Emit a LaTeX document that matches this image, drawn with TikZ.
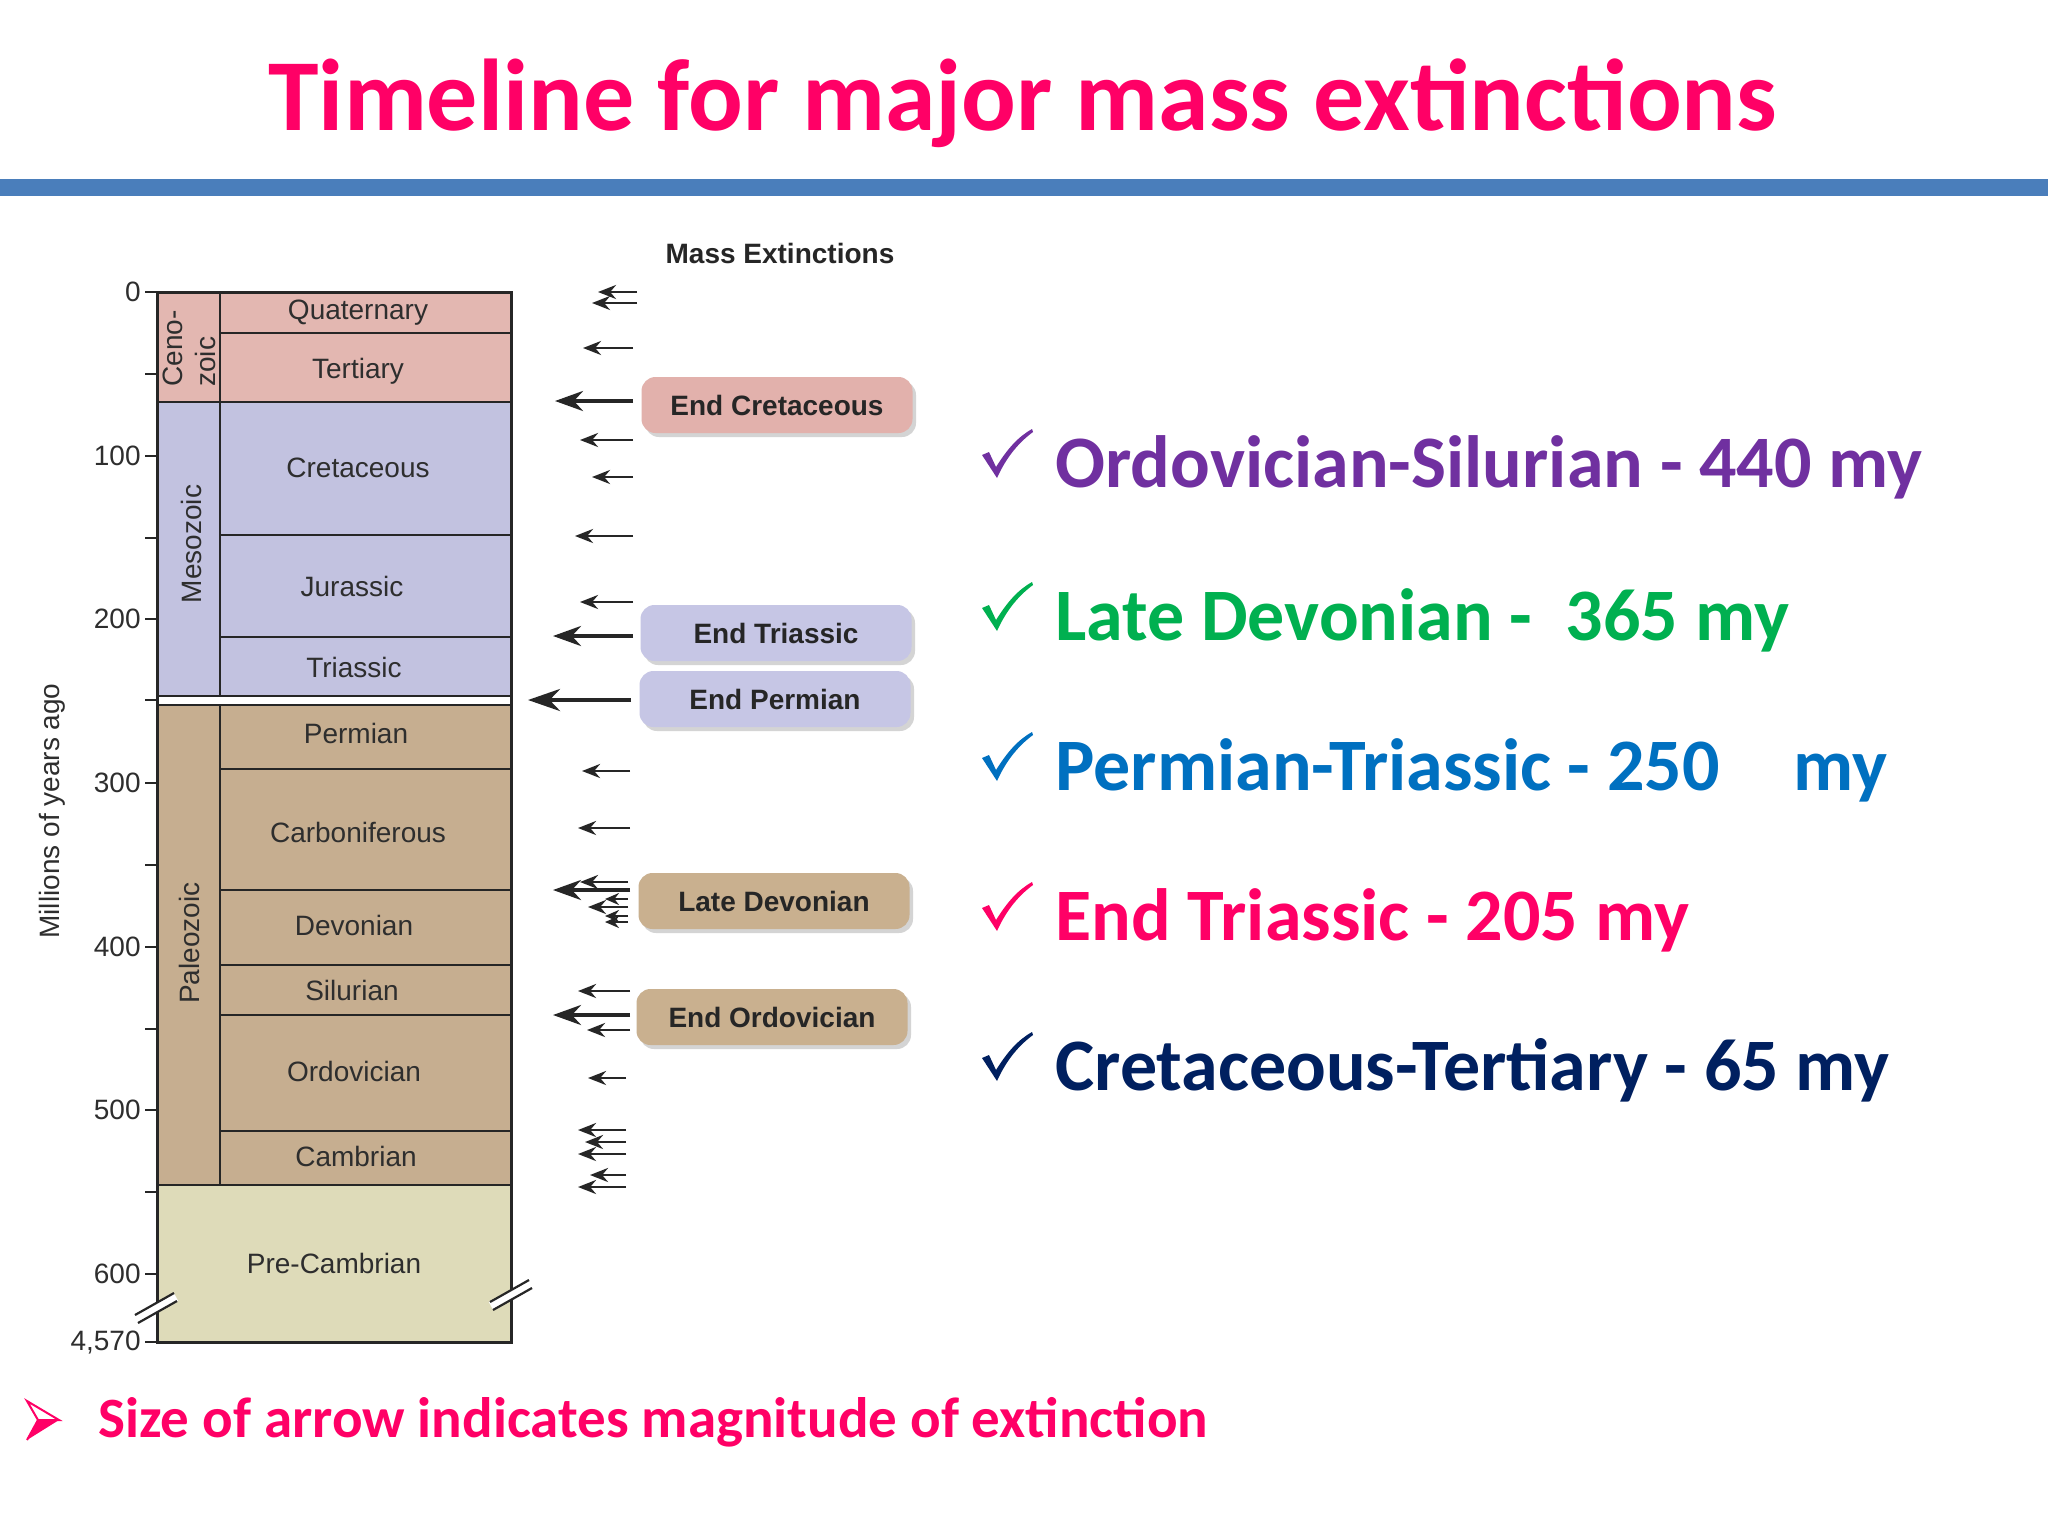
\documentclass[tikz,border=0pt]{standalone}
\usepackage{fontspec}
\setmainfont{Liberation Sans}
\newfontfamily\calib{Carlito}
\usetikzlibrary{arrows.meta}
\definecolor{ttl}{HTML}{FF0066}
\definecolor{barblue}{HTML}{4A7EBB}
\definecolor{cpurple}{HTML}{7030A0}
\definecolor{cgreen}{HTML}{00B050}
\definecolor{cblue}{HTML}{0070C0}
\definecolor{cnavy}{HTML}{002060}
\definecolor{ceno}{HTML}{E3B7B1}
\definecolor{meso}{HTML}{C2C2E0}
\definecolor{paleo}{HTML}{C6AE90}
\definecolor{prec}{HTML}{DEDBB9}
\definecolor{bxpink}{HTML}{E2B1AC}
\definecolor{bxlav}{HTML}{C6C6E5}
\definecolor{bxtan}{HTML}{C9B08F}
\definecolor{ink}{HTML}{262626}
\definecolor{txt}{HTML}{2E2E2E}
\tikzset{
  chartfont/.style={font=\fontsize{14}{16}\selectfont, text=txt, inner sep=0pt},
  outl/.style={draw=ink, line width=1.5pt},
  divl/.style={draw=ink, line width=1.25pt},
  tickl/.style={draw=ink, line width=1.1pt},
  lbox/.style={rounded corners=7pt, minimum width=135.5pt, minimum height=28pt, inner sep=0pt,
     font=\fontsize{14}{16}\selectfont\bfseries, text=ink},
  shad/.style={fill=black!30, rounded corners=7pt, opacity=0.55},
  bigarr/.style={draw=ink, line width=2pt, -{Stealth[length=14pt,width=10pt]}},
  smarr/.style={draw=ink, line width=1.4pt, -{Stealth[length=9pt,width=7pt]}},
  tiarr/.style={draw=ink, line width=1.2pt, -{Stealth[length=7pt,width=6pt]}},
  listtxt/.style={font=\calib\bfseries\fontsize{37}{40}\selectfont, anchor=base west, inner sep=0pt},
  chkmark/.pic={\fill (-14,-23) -- (-7,-26) -- (0,-11) .. controls (12,-30) and (22,-41) .. (36,-49)
     -- (37,-46) .. controls (22,-35) and (10,-20) .. (1,0) -- cycle;}
}
\begin{document}
\begin{tikzpicture}[x=0.5pt,y=-0.5pt]
\useasboundingbox (0,0) rectangle (2048,1536);
\fill[white] (0,0) rectangle (2048,1536);

% title and bar
\node[font=\calib\bfseries\fontsize{51}{56}\selectfont, text=ttl, anchor=base, inner sep=0pt] (title) at (1023,131) {Timeline for major mass extinctions};
\fill[barblue] (0,179) rectangle (2048,196);

% chart fills
\fill[ceno] (157,292) rectangle (511,402);
\fill[meso] (157,402) rectangle (511,696);
\fill[paleo] (157,705) rectangle (511,1185);
\fill[prec] (157,1185) rectangle (511,1342);

% dividers
\foreach \y in {333,535,637,769,890,965,1015,1131} \draw[divl] (220,\y) -- (511,\y);
\foreach \y in {402,696,705,1185} \draw[divl] (157,\y) -- (511,\y);
\draw[divl] (220,292) -- (220,696);
\draw[divl] (220,705) -- (220,1185);
\draw[outl] (157,292) rectangle (511,1342);

% ticks
\foreach \y in {292,374,456,538,619,700,783,865,947,1029,1110,1192,1274,1342} \draw[tickl] (145,\y) -- (157,\y);
\foreach \y/\t [count=\i] in {292/0,456/100,619/200,783/300,947/400,1110/500,1274/600,1342/{4,570}}
  \node[chartfont, anchor=east] (tk\i) at (141,\y) {\t};

% break marks
\foreach \cx/\cy in {156/1308, 511/1295} {
  \draw[white, line width=4.5pt] (\cx-20,\cy+11) -- (\cx+20,\cy-11);
  \draw[ink, line width=1.1pt] (\cx-21,\cy+7) -- (\cx+18,\cy-15);
  \draw[ink, line width=1.1pt] (\cx-18,\cy+15) -- (\cx+21,\cy-7);
}

% axis title
\node[font=\fontsize{14}{16}\selectfont, text=txt, rotate=90, inner sep=0pt] (axis) at (52,811) {Millions of years ago};

% era labels
\node[chartfont, rotate=90, anchor=west] (ceno1) at (173,387) {Ceno-};
\node[chartfont, rotate=90, anchor=west] (ceno2) at (205,387) {zoic};
\node[chartfont, rotate=90] (mesoz) at (191,544) {Mesozoic};
\node[chartfont, rotate=90] (paleoz) at (189,943) {Paleozoic};

% period labels
\node[chartfont] (p1) at (358,313) {Quaternary};
\node[chartfont] (p2) at (358,371) {Tertiary};
\node[chartfont] (p3) at (358,468) {Cretaceous};
\node[chartfont] (p4) at (352,586) {Jurassic};
\node[chartfont] (p5) at (354,667) {Triassic};
\node[chartfont] (p6) at (356,733) {Permian};
\node[chartfont] (p7) at (358,832) {Carboniferous};
\node[chartfont] (p8) at (354,925) {Devonian};
\node[chartfont] (p9) at (352,990) {Silurian};
\node[chartfont] (p10) at (354,1071) {Ordovician};
\node[chartfont] (p11) at (356,1156) {Cambrian};
\node[chartfont] (p12) at (334,1263) {Pre-Cambrian};

% mass extinctions header
\node[font=\fontsize{14}{16}\selectfont\bfseries, text=ink, inner sep=0pt] (mehead) at (780,253) {Mass Extinctions};

% labelled boxes with shadows
\foreach \cx/\cy/\nm/\col/\lab in {777/405/bK/bxpink/End Cretaceous, 776/633/bT/bxlav/End Triassic, 775/699/bP/bxlav/End Permian, 774/901/bD/bxtan/Late Devonian, 772/1017/bO/bxtan/End Ordovician} {
  \fill[shad] (\cx-132,\cy-24) rectangle (\cx+139,\cy+32);
  \node[lbox, fill=\col] (\nm) at (\cx,\cy) {\lab};
}

% arrows
\foreach \y/\a/\b in {292/598/637, 303/592/637, 348/583/633, 440/580/633, 477/592/633, 536/575/633, 602/580/633,
  771/582/630, 828/578/630, 882/580/628, 907/588/628, 991/578/630, 1030/587/630, 1078/588/626,
  1130/578/626, 1142/585/626, 1154/578/626, 1175/590/626, 1187/578/626}
  \draw[smarr] (\b,\y) -- (\a,\y);
\foreach \y/\a/\b in {899/605/628, 916/605/628, 922/605/628}
  \draw[tiarr] (\b,\y) -- (\a,\y);
\foreach \y/\a/\b in {401/555/633, 636/553/633, 890/553/630, 1015/553/630}
  \draw[bigarr] (\b,\y) -- (\a,\y);
\draw[draw=ink, line width=2.2pt, -{Stealth[length=16pt,width=11pt]}] (631,700) -- (528,700);

% list on the right
\foreach \y/\col/\lab [count=\i] in {487/cpurple/{Ordovician-Silurian - 440 my},
   640/cgreen/{Late Devonian -\ \ 365 my},
   790/cblue/{Permian-Triassic - 250\hspace{37pt}my},
   940/ttl/{End Triassic - 205 my},
   1090/cnavy/{Cretaceous-Tertiary - 65 my}} {
  \pic[fill=\col] at (996,\y-9) {chkmark};
  \node[listtxt, text=\col] (l\i) at (1055,\y) {\lab};
}

% bottom note
\fill[ttl] (27,1440) -- (59,1420) -- (38,1420) -- cycle;
\draw[ttl, line width=1pt, line join=miter] (27,1401) -- (59,1420) -- (38,1420) -- cycle;
\draw[ttl, line width=1pt] (27,1440) -- (38,1420);
\node[font=\calib\bfseries\fontsize{28.5}{32}\selectfont, text=ttl, anchor=base west, inner sep=0pt] (note) at (98,1437) {Size of arrow indicates magnitude of extinction};
\end{tikzpicture}
\end{document}
